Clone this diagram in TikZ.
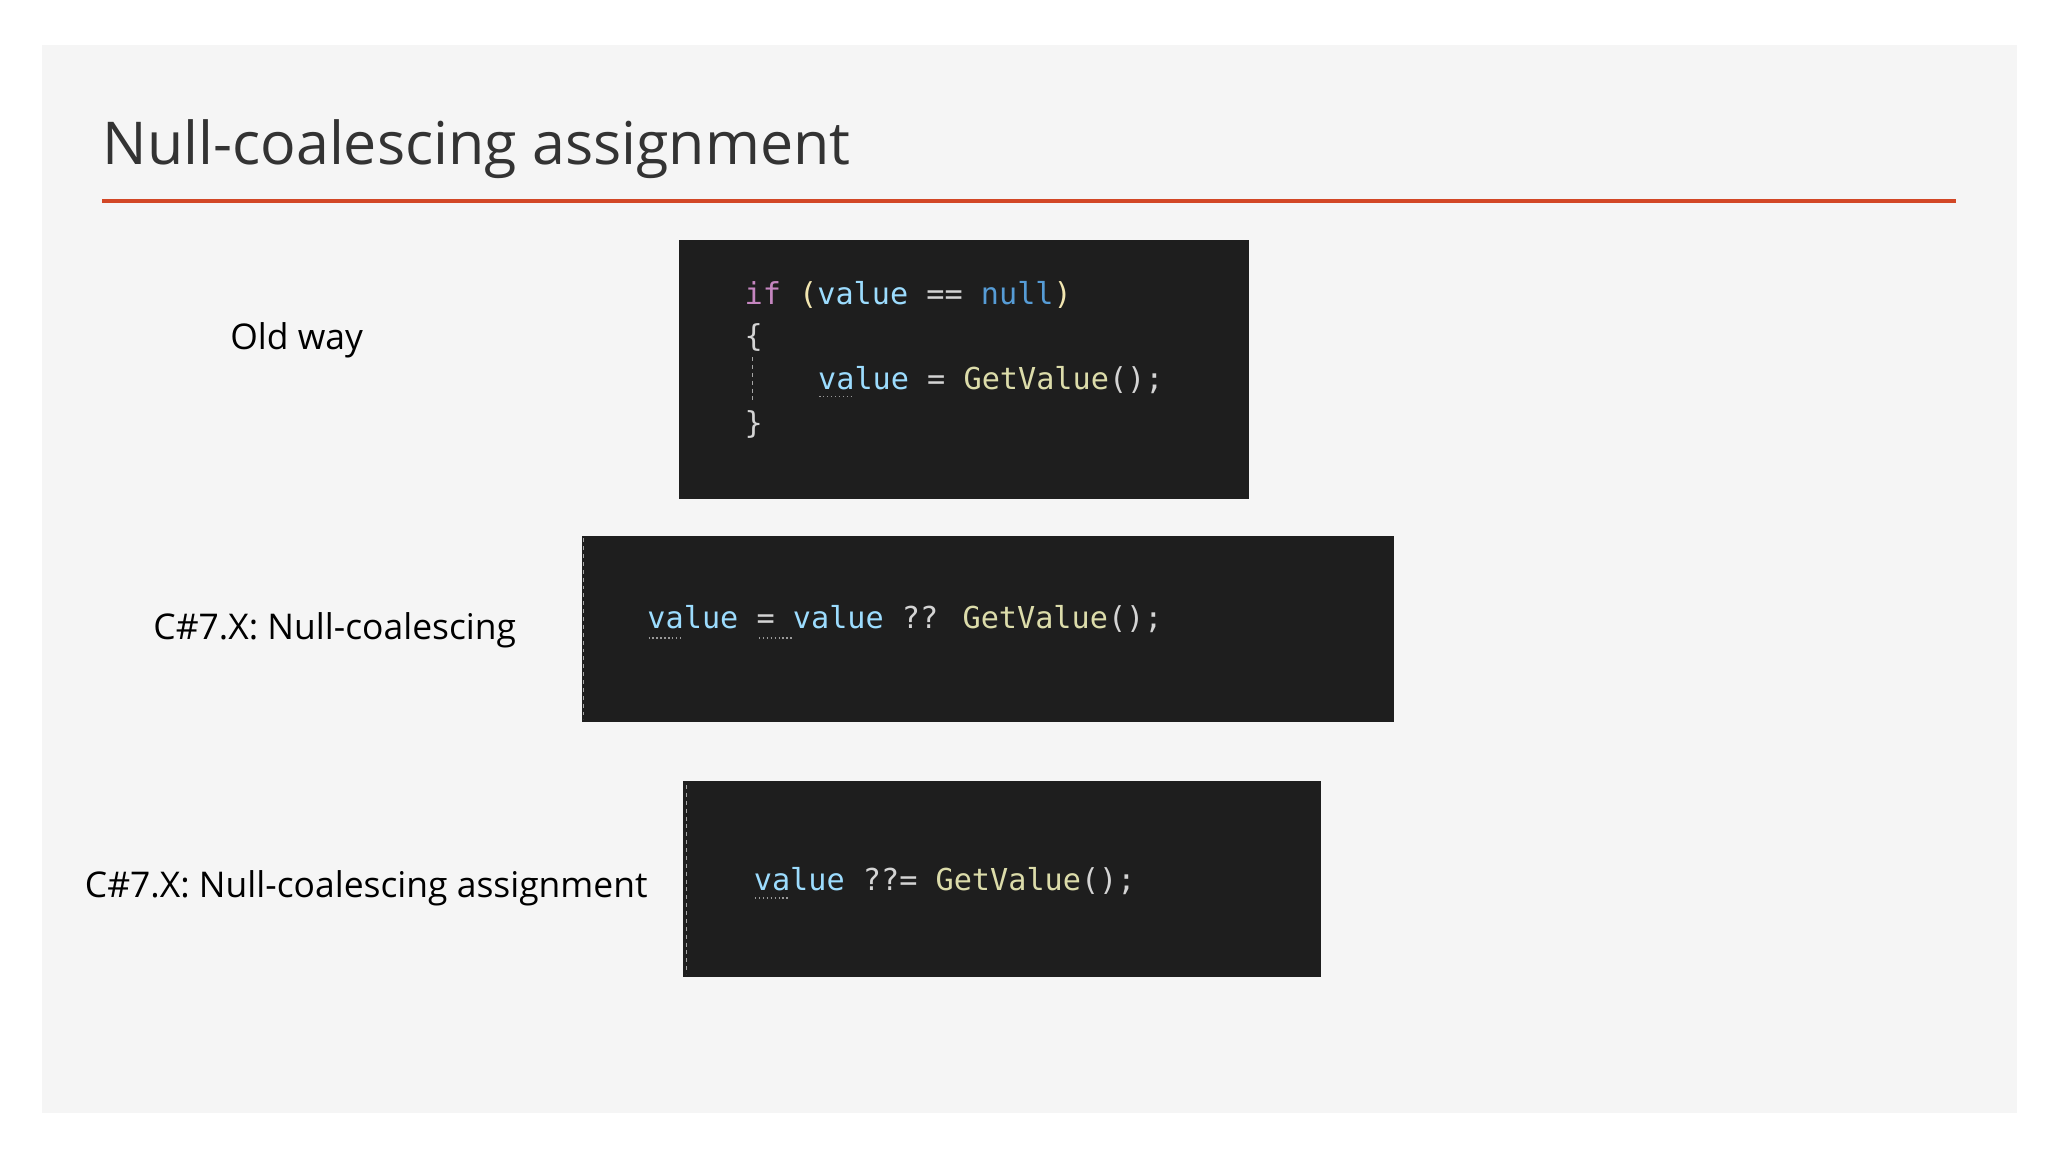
\documentclass[tikz,border=0pt]{standalone}
\usepackage{fontspec}
\setmainfont{Open Sans}
\newfontfamily\codefont{DejaVu Sans Mono}
\definecolor{panel}{HTML}{F5F5F5}
\definecolor{codebg}{HTML}{1E1E1E}
\definecolor{redline}{HTML}{D24726}
\definecolor{kw}{HTML}{C586C0}
\definecolor{var}{HTML}{9CDCFE}
\definecolor{lit}{HTML}{569CD6}
\definecolor{fn}{HTML}{DCDCAA}
\definecolor{pun}{HTML}{D4D4D4}
\definecolor{par}{HTML}{F2E6B0}
\begin{document}
\begin{tikzpicture}[x=1pt,y=-1pt,
  label/.style={font=\fontsize{27}{30}\selectfont, text=black, inner sep=0pt},
  code/.style={font=\codefont\fontsize{23}{26}\selectfont, text=pun, inner sep=0pt, anchor=base west},
  codebox/.style={fill=codebg, draw=none},
  guide/.style={draw=gray!70, dashed, line width=0.6pt}]
\useasboundingbox (0,0) rectangle (1560,877.5);
\fill[white] (0,0) rectangle (1560,877.5);
\fill[panel] (32,34) rectangle (1536,848);
\node[anchor=base west, inner sep=0pt, text=black!80, font=\fontsize{45}{50}\selectfont] (title) at (78,125) {Null-coalescing assignment};
\draw[redline, line width=2.5pt] (78,153) -- (1490,153);
% boxes
\fill[codebg] (517,183) rectangle (951,380);
\fill[codebg] (443,408) rectangle (1062,550);
\fill[codebg] (520,595) rectangle (1006,744);
% labels
\node[label] (l1) at (226,259) {Old way};
\node[label] (l2) at (255,480) {C\#7.X: Null-coalescing};
\node[label] (l3) at (279,677) {C\#7.X: Null-coalescing assignment};
% code 1
\node[code] (c1) at (567,232) {\textcolor{kw}{if} \textcolor{par}{(}\textcolor{var}{value} == \textcolor{lit}{null}\textcolor{par}{)}};
\node[code] (c2) at (567,264) {\{};
\node[code] (c3) at (623,297) {\textcolor{var}{value} = \textcolor{fn}{GetValue}();};
\node[code] (c4) at (567,330) {\}};
\draw[guide] (573,272) -- (573,306);
\draw[gray!80, dotted, line width=1pt] (624,302) -- (650,302);
% code 2
\node[code] (d1) at (493,479) {\textcolor{var}{value} = \textcolor{var}{value} ?? \textcolor{fn}{GetValue}();};
\draw[gray!80, dotted, line width=1pt] (494,486) -- (520,486);
\draw[gray!80, dotted, line width=1pt] (578,486) -- (604,486);
\draw[guide] (444,410) -- (444,548);
% code 3
\node[code] (e1) at (574,678) {\textcolor{var}{value} ??= \textcolor{fn}{GetValue}();};
\draw[gray!80, dotted, line width=1pt] (575,684) -- (601,684);
\draw[guide] (523,598) -- (523,742);
\end{tikzpicture}
\end{document}
